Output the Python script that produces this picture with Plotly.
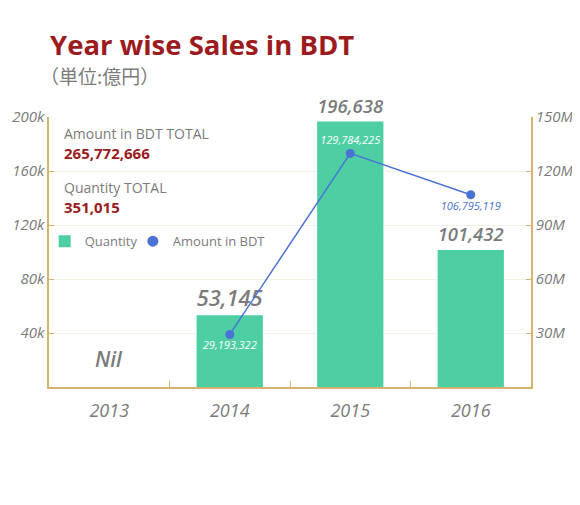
import plotly.graph_objects as go

years = ["2013", "2014", "2015", "2016"]
quantity = [0, 53145, 196638, 101432]
quantity_labels = ["", "53,145", "196,638", "101,432"]
amount_years = ["2014", "2015", "2016"]
amount = [29193322, 129784225, 106795119]
amount_labels = ["29,193,322", "129,784,225", "106,795,119"]
amount_total = "265,772,666"
quantity_total = "351,015"

GREEN = "#4ecfa3"
BLUE = "#4a72d4"
RED = "#9b1b1e"
GRAY = "#7b7b7b"
AXIS = "#d6b46e"
GRID = "#f4f1e6"
FONT = "Open Sans"

fig = go.Figure()

fig.add_trace(go.Bar(
    x=years, y=quantity, name="Quantity",
    marker=dict(color=GREEN, line=dict(width=0)),
    text=quantity_labels, textposition="outside", cliponaxis=False,
    textfont=dict(family=FONT, size=23, color=GRAY, style="italic", weight=600),
    hoverinfo="skip",
))

fig.add_trace(go.Scatter(
    x=amount_years, y=amount, yaxis="y2", mode="lines+markers+text",
    line=dict(color=BLUE, width=1.5),
    marker=dict(color=BLUE, size=9),
    text=amount_labels,
    textposition=["bottom center", "top center", "bottom center"],
    textfont=dict(family=FONT, size=11, style="italic",
                  color=["white", "white", BLUE]),
    showlegend=False, cliponaxis=False,
))

# legend entry: just the dot, like the reference (own legend box for tighter spacing)
fig.add_trace(go.Scatter(
    x=[years[0]], y=[None], yaxis="y2", mode="markers", name="Amount in BDT",
    marker=dict(color=BLUE, size=11), legend="legend2",
))

legend_style = dict(orientation="h", y=0.54, xanchor="left", yanchor="middle",
                    font=dict(size=13, color=GRAY), itemwidth=30,
                    bgcolor="rgba(0,0,0,0)")

# the page adds an 8px body margin, so the figure is drawn 8px smaller
fig.update_layout(
    width=572, height=497,
    margin=dict(l=41, r=49, t=109, b=118, autoexpand=False),
    paper_bgcolor="white", plot_bgcolor="white",
    font=dict(family=FONT, color=GRAY),
    bargap=0.45,
    showlegend=True,
    legend=dict(x=-0.009, **legend_style),
    legend2=dict(x=0.174, **legend_style),
    xaxis=dict(
        type="category", categoryorder="array", categoryarray=years,
        range=[-0.5, 3.5], tickangle=0, automargin=False,
        showline=True, linecolor=AXIS, linewidth=1.5,
        ticks="inside", ticklen=6, tickcolor=AXIS, tickson="boundaries",
        tickfont=dict(size=18, color=GRAY, style="italic"), ticklabelstandoff=7,
        showgrid=False, zeroline=False,
    ),
    yaxis=dict(
        range=[0, 200000], tickvals=[40000, 80000, 120000, 160000, 200000],
        ticktext=["40k", "80k", "120k", "160k", "200k"], automargin=False,
        showline=True, linecolor=AXIS, linewidth=1.5,
        ticks="inside", ticklen=5, tickcolor=AXIS,
        tickfont=dict(size=15, color=GRAY, style="italic"),
        gridcolor=GRID, zeroline=False,
    ),
    yaxis2=dict(
        range=[0, 150000000], overlaying="y", side="right", automargin=False,
        tickvals=[30e6, 60e6, 90e6, 120e6, 150e6],
        ticktext=["30M", "60M", "90M", "120M", "150M"],
        showline=True, linecolor=AXIS, linewidth=1.5,
        ticks="inside", ticklen=5, tickcolor=AXIS,
        tickfont=dict(size=15, color=GRAY, style="italic"),
        showgrid=False, zeroline=False,
    ),
)

fig.add_annotation(text="Year wise Sales in BDT", xref="paper", yref="paper",
                   x=0, y=1, yshift=73, xshift=-1, xanchor="left", yanchor="middle",
                   showarrow=False, font=dict(size=27.5, color=RED, weight="bold"))
fig.add_annotation(text="（単位:億円）", xref="paper", yref="paper",
                   x=0, y=1, yshift=42, xshift=-11, xanchor="left", yanchor="middle",
                   showarrow=False,
                   font=dict(size=19, color=GRAY, family="Noto Sans CJK JP"))

# totals box
fig.add_annotation(text="Amount in BDT TOTAL", xref="paper", yref="paper",
                   x=0.027, y=0.94, xanchor="left", yanchor="middle", showarrow=False,
                   font=dict(size=14, color=GRAY))
fig.add_annotation(text="<b>" + amount_total + "</b>", xref="paper", yref="paper",
                   x=0.027, y=0.866, xanchor="left", yanchor="middle", showarrow=False,
                   font=dict(size=15, color=RED))
fig.add_annotation(text="Quantity TOTAL", xref="paper", yref="paper",
                   x=0.027, y=0.74, xanchor="left", yanchor="middle", showarrow=False,
                   font=dict(size=14, color=GRAY))
fig.add_annotation(text="<b>" + quantity_total + "</b>", xref="paper", yref="paper",
                   x=0.027, y=0.666, xanchor="left", yanchor="middle", showarrow=False,
                   font=dict(size=15, color=RED))

# 2013 has no sales: category index 0
fig.add_annotation(text="Nil", x=years.index("2013"), y=0, yanchor="bottom", yshift=12,
                   showarrow=False,
                   font=dict(size=21, color=GRAY, style="italic", weight=600))

fig.write_html("out.html")
